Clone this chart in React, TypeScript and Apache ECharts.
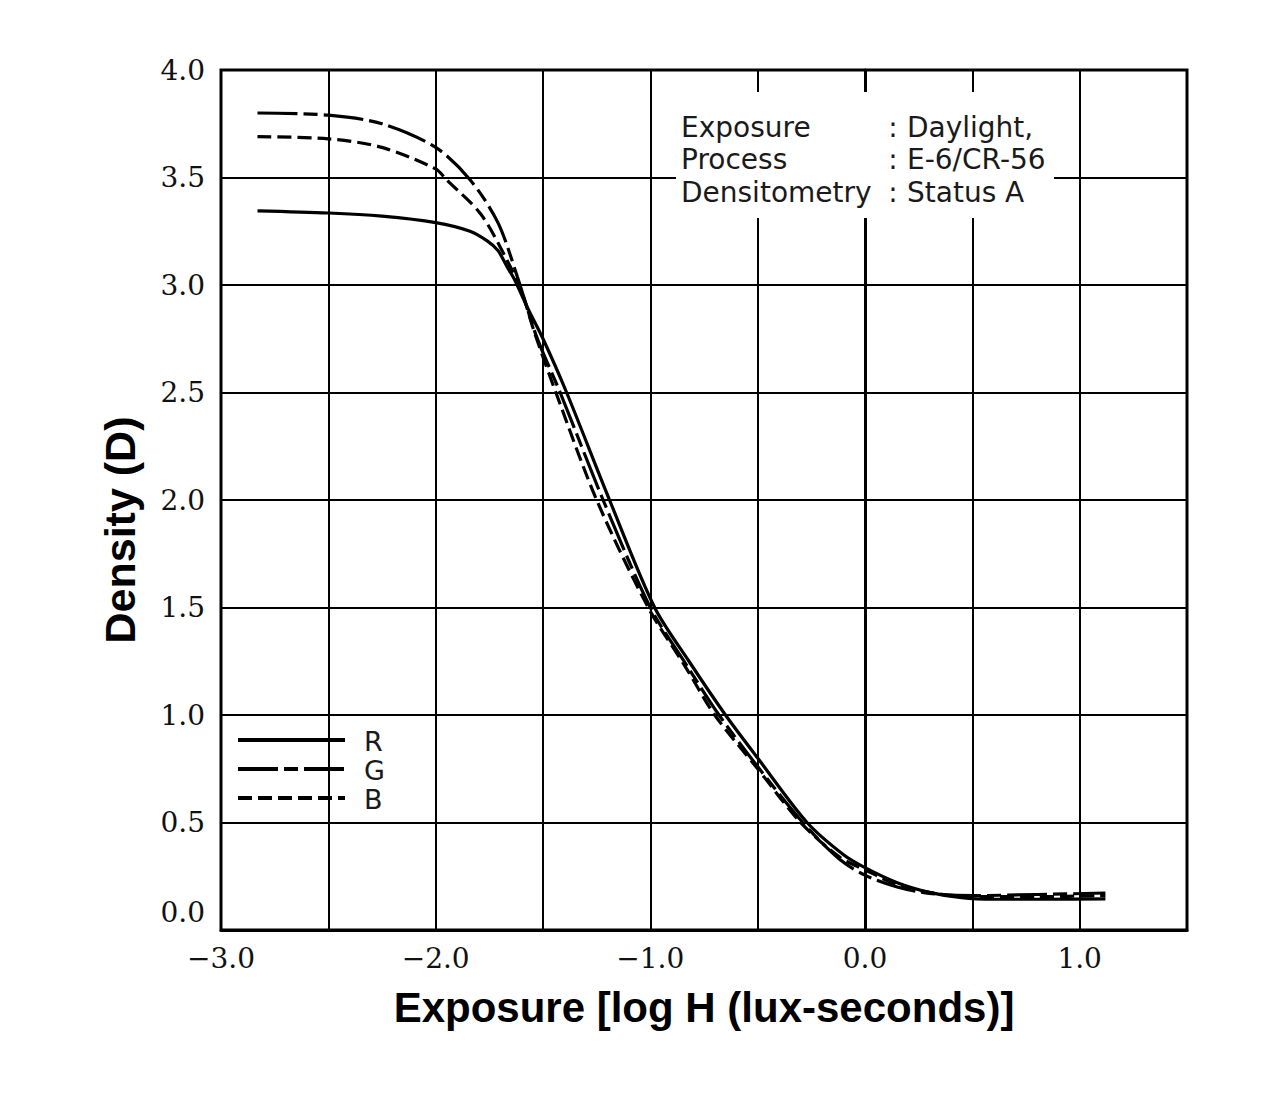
import React, { useEffect, useRef } from "react";
import * as echarts from "echarts";

// Characteristic curves: log exposure (lux-seconds) vs. diffuse density
const logHR = [-2.83, -2.5, -2.25, -2.0, -1.84, -1.76, -1.71, -1.67, -1.63, -1.57, -1.5, -1.39, -1.19, -0.98, -0.82, -0.65, -0.5, -0.27, -0.1, 0.0, 0.15, 0.3, 0.45, 0.6, 0.85, 1.12];
const densityR = [3.345, 3.335, 3.32, 3.29, 3.25, 3.205, 3.16, 3.09, 3.02, 2.89, 2.75, 2.5, 2.0, 1.5, 1.25, 1.0, 0.8, 0.5, 0.35, 0.29, 0.22, 0.175, 0.15, 0.143, 0.143, 0.145];

const logHG = [-2.83, -2.5, -2.25, -2.0, -1.84, -1.71, -1.62, -1.53, -1.42, -1.22, -1.0, -0.83, -0.68, -0.5, -0.29, -0.12, 0.0, 0.15, 0.3, 0.5, 0.8, 1.12];
const densityG = [3.8, 3.79, 3.75, 3.64, 3.49, 3.29, 3.04, 2.76, 2.5, 2.0, 1.5, 1.23, 1.0, 0.76, 0.5, 0.33, 0.255, 0.2, 0.17, 0.16, 0.165, 0.172];

const logHB = [-2.83, -2.5, -2.25, -2.0, -1.95, -1.79, -1.67, -1.6, -1.54, -1.44, -1.25, -1.01, -0.84, -0.7, -0.5, -0.3, -0.12, 0.0, 0.15, 0.3, 0.5, 0.8, 1.12];
const densityB = [3.69, 3.68, 3.64, 3.54, 3.49, 3.33, 3.12, 2.97, 2.78, 2.5, 2.0, 1.5, 1.23, 1.0, 0.75, 0.5, 0.34, 0.28, 0.21, 0.175, 0.155, 0.155, 0.16];

const seriesNames = ["R", "G", "B"];
const infoLabels = ["Exposure", "Process", "Densitometry"];
const infoValues = ["Daylight,", "E-6/CR-56", "Status A"];

const zip = (xs: number[], ys: number[]) => xs.map((x, i) => [x, ys[i]]);

const SERIF = "'DejaVu Serif', serif";
const SANS = "'DejaVu Sans', sans-serif";
const BOLD_SANS = "'Liberation Sans', Arial, sans-serif";

const dashG = [40, 6, 14, 6];
const dashB = [14, 6];

export default function App() {
  const ref = useRef<HTMLDivElement>(null);

  useEffect(() => {
    document.body.style.margin = "0";
    const chart = echarts.init(ref.current!, null, { renderer: "svg" });

    const lineSeries = (name: string, data: number[][], type: any) => ({
      name,
      type: "line",
      data,
      smooth: 0.3,
      showSymbol: false,
      lineStyle: { color: "#000", width: 3.2, type },
      z: 5,
    });

    const infoRows = infoLabels.map((label, i) => {
      const y = 127 + i * 32.5;
      const common = { fontFamily: SANS, fontSize: 28, lineHeight: 30, fill: "#1a1a1a", verticalAlign: "middle" };
      return [
        { type: "text", z: 12, style: { ...common, text: label, x: 681, y, align: "left" } },
        { type: "text", z: 12, style: { ...common, text: ":", x: 893, y, align: "center" } },
        { type: "text", z: 12, style: { ...common, text: infoValues[i], x: 907, y, align: "left" } },
      ];
    }).flat();

    const legendDash = [null, dashG, dashB];
    const legendItems = seriesNames.map((name, i) => {
      const y = 740 + i * 29;
      return [
        {
          type: "line",
          z: 12,
          shape: { x1: 238, y1: y, x2: 345, y2: y },
          style: { stroke: "#000", lineWidth: 4, lineDash: legendDash[i] || undefined, lineCap: "butt" },
        },
        {
          type: "text",
          z: 12,
          style: {
            text: name,
            x: 364,
            y: y + 1,
            fontFamily: SANS,
            fontSize: 27,
            lineHeight: 26,
            fill: "#1a1a1a",
            verticalAlign: "middle",
          },
        },
      ];
    }).flat();

    chart.setOption({
      animation: false,
      backgroundColor: "#fff",
      grid: {
        left: 221,
        top: 70,
        right: 81,
        bottom: 167,
        show: true,
        borderColor: "#000",
        borderWidth: 3,
        backgroundColor: "transparent",
      },
      xAxis: {
        type: "value",
        min: -3,
        max: 1.5,
        interval: 0.5,
        name: "Exposure [log H (lux-seconds)]",
        nameLocation: "middle",
        nameGap: 56,
        nameTextStyle: { fontFamily: BOLD_SANS, fontWeight: "bold", fontSize: 42, color: "#000" },
        axisLine: { show: true, lineStyle: { color: "#000", width: 3 } },
        axisTick: { show: false },
        splitLine: { show: true, lineStyle: { color: "#000", width: 2 } },
        axisLabel: {
          margin: 14,
          fontFamily: SERIF,
          fontSize: 28,
          color: "#111",
          formatter: (v: number) => {
            if (Math.abs(v - Math.round(v)) > 1e-6) return "";
            const s = Math.abs(v).toFixed(1);
            return v < -1e-6 ? "\u2212" + s : s;
          },
        },
      },
      yAxis: {
        type: "value",
        min: 0,
        max: 4,
        interval: 0.5,
        axisLine: { show: true, lineStyle: { color: "#000", width: 3 } },
        axisTick: { show: false },
        splitLine: { show: true, lineStyle: { color: "#000", width: 2 } },
        axisLabel: {
          margin: 16,
          fontFamily: SERIF,
          fontSize: 28,
          color: "#111",
          formatter: (v: number) => (Math.abs(v) < 1e-6 ? "{z|0.0}" : v.toFixed(1)),
          rich: {
            z: { fontFamily: SERIF, fontSize: 28, color: "#111", padding: [0, 0, 36, 0] },
          },
        },
      },
      graphic: [
        {
          type: "rect",
          z: 10,
          shape: { x: 676, y: 92, width: 378, height: 126 },
          style: { fill: "#fff" },
        },
        ...infoRows,
        ...legendItems,
        {
          type: "text",
          z: 12,
          x: 120,
          y: 530,
          rotation: Math.PI / 2,
          style: {
            text: "Density (D)",
            fontFamily: BOLD_SANS,
            fontWeight: "bold",
            fontSize: 43,
            fill: "#000",
            align: "center",
            verticalAlign: "middle",
          },
        },
      ],
      series: [
        lineSeries(seriesNames[0], zip(logHR, densityR), "solid"),
        lineSeries(seriesNames[1], zip(logHG, densityG), dashG),
        lineSeries(seriesNames[2], zip(logHB, densityB), dashB),
      ],
    });

    return () => chart.dispose();
  }, []);

  return <div ref={ref} style={{ width: 1268, height: 1097 }} />;
}
